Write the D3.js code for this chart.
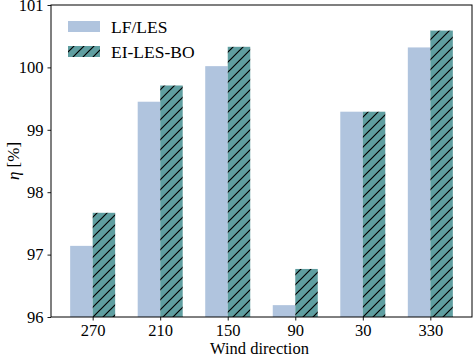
<!DOCTYPE html>
<html><head><meta charset="utf-8">
<script src="https://cdn.jsdelivr.net/npm/d3@7"></script>
<style>body{margin:0;background:#fff}svg{display:block}</style>
</head><body>
<svg id="c" width="474" height="358" font-family="Liberation Serif"></svg>
<script>
const categories = ["270","210","150","90","30","330"];
const seriesNames = ["LF/LES","EI-LES-BO"];
const lfValues = [97.14, 99.45, 100.02, 96.19, 99.29, 100.32];
const eiValues = [97.67, 99.71, 100.33, 96.77, 99.29, 100.59];
const yTicks = [96, 97, 98, 99, 100, 101];

const W = 474, H = 358;
const m = {left: 51, right: 2, top: 5, bottom: 41};
const FONT = "Liberation Serif";
const svg = d3.select("#c");

const defs = svg.append("defs");
const pat = defs.append("pattern").attr("id","hatch").attr("patternUnits","userSpaceOnUse")
  .attr("width",10).attr("height",10);
pat.append("rect").attr("width",10).attr("height",10).attr("fill","#5f9ea0");
pat.append("path").attr("d","M-1,11 L11,-1 M-6,6 L6,-6 M4,16 L16,4")
  .attr("stroke","#000").attr("stroke-width",1.2);

const x = d3.scaleLinear().domain([-0.617, 5.617]).range([m.left, W - m.right]);
const y = d3.scaleLinear().domain([96, 101]).range([H - m.bottom, m.top]);
const bw = x(1/3) - x(0);

const g = svg.append("g");
g.selectAll(".lf").data(lfValues).join("rect")
  .attr("x",(d,i)=>x(i - 1/3)).attr("width",bw)
  .attr("y",d=>y(d)).attr("height",d=>y(96)-y(d)).attr("fill","#b0c4de");
g.selectAll(".ei").data(eiValues).join("rect")
  .attr("x",(d,i)=>x(i)).attr("width",bw)
  .attr("y",d=>y(d)).attr("height",d=>y(96)-y(d)).attr("fill","url(#hatch)");

const xa = svg.append("g").attr("transform",`translate(0,${H-m.bottom})`)
  .call(d3.axisBottom(x).tickValues(d3.range(categories.length)).tickFormat(i=>categories[i]).tickSize(3.5).tickPadding(4));
const ya = svg.append("g").attr("transform",`translate(${m.left},0)`)
  .call(d3.axisLeft(y).tickValues(yTicks).tickFormat(d3.format("d")).tickSize(3.5).tickPadding(4));
[xa, ya].forEach(a=>{
  a.attr("font-family",FONT);
  a.select(".domain").remove();
  a.selectAll("text").attr("font-family",FONT).attr("font-size",16.5).attr("fill","#000");
  a.selectAll("line").attr("stroke","#000").attr("stroke-width",0.9);
});
svg.append("rect").attr("x",m.left).attr("y",m.top)
  .attr("width",W-m.right-m.left).attr("height",H-m.bottom-m.top)
  .attr("fill","none").attr("stroke","#000").attr("stroke-width",1);

svg.append("text").attr("x",(m.left+W-m.right)/2 - 2).attr("y",354).attr("font-family",FONT)
  .attr("text-anchor","middle").attr("font-size",16.5).text("Wind direction");
const yl = svg.append("text").attr("transform",`translate(19,${(m.top+H-m.bottom)/2}) rotate(-90)`)
  .attr("text-anchor","middle").attr("font-size",17).attr("font-family",FONT);
yl.append("tspan").attr("font-style","italic").text("η");
yl.append("tspan").text(" [%]");

const lg = svg.append("g");
const fills = ["#b0c4de","url(#hatch)"];
seriesNames.forEach((s,i)=>{
  const yy = 21 + i*25;
  lg.append("rect").attr("x",68).attr("y",yy).attr("width",32).attr("height",11).attr("fill",fills[i]);
  lg.append("text").attr("x",111).attr("y",yy+11.5).attr("font-family",FONT).attr("font-size",17.5).text(s);
});
</script>
</body></html>
